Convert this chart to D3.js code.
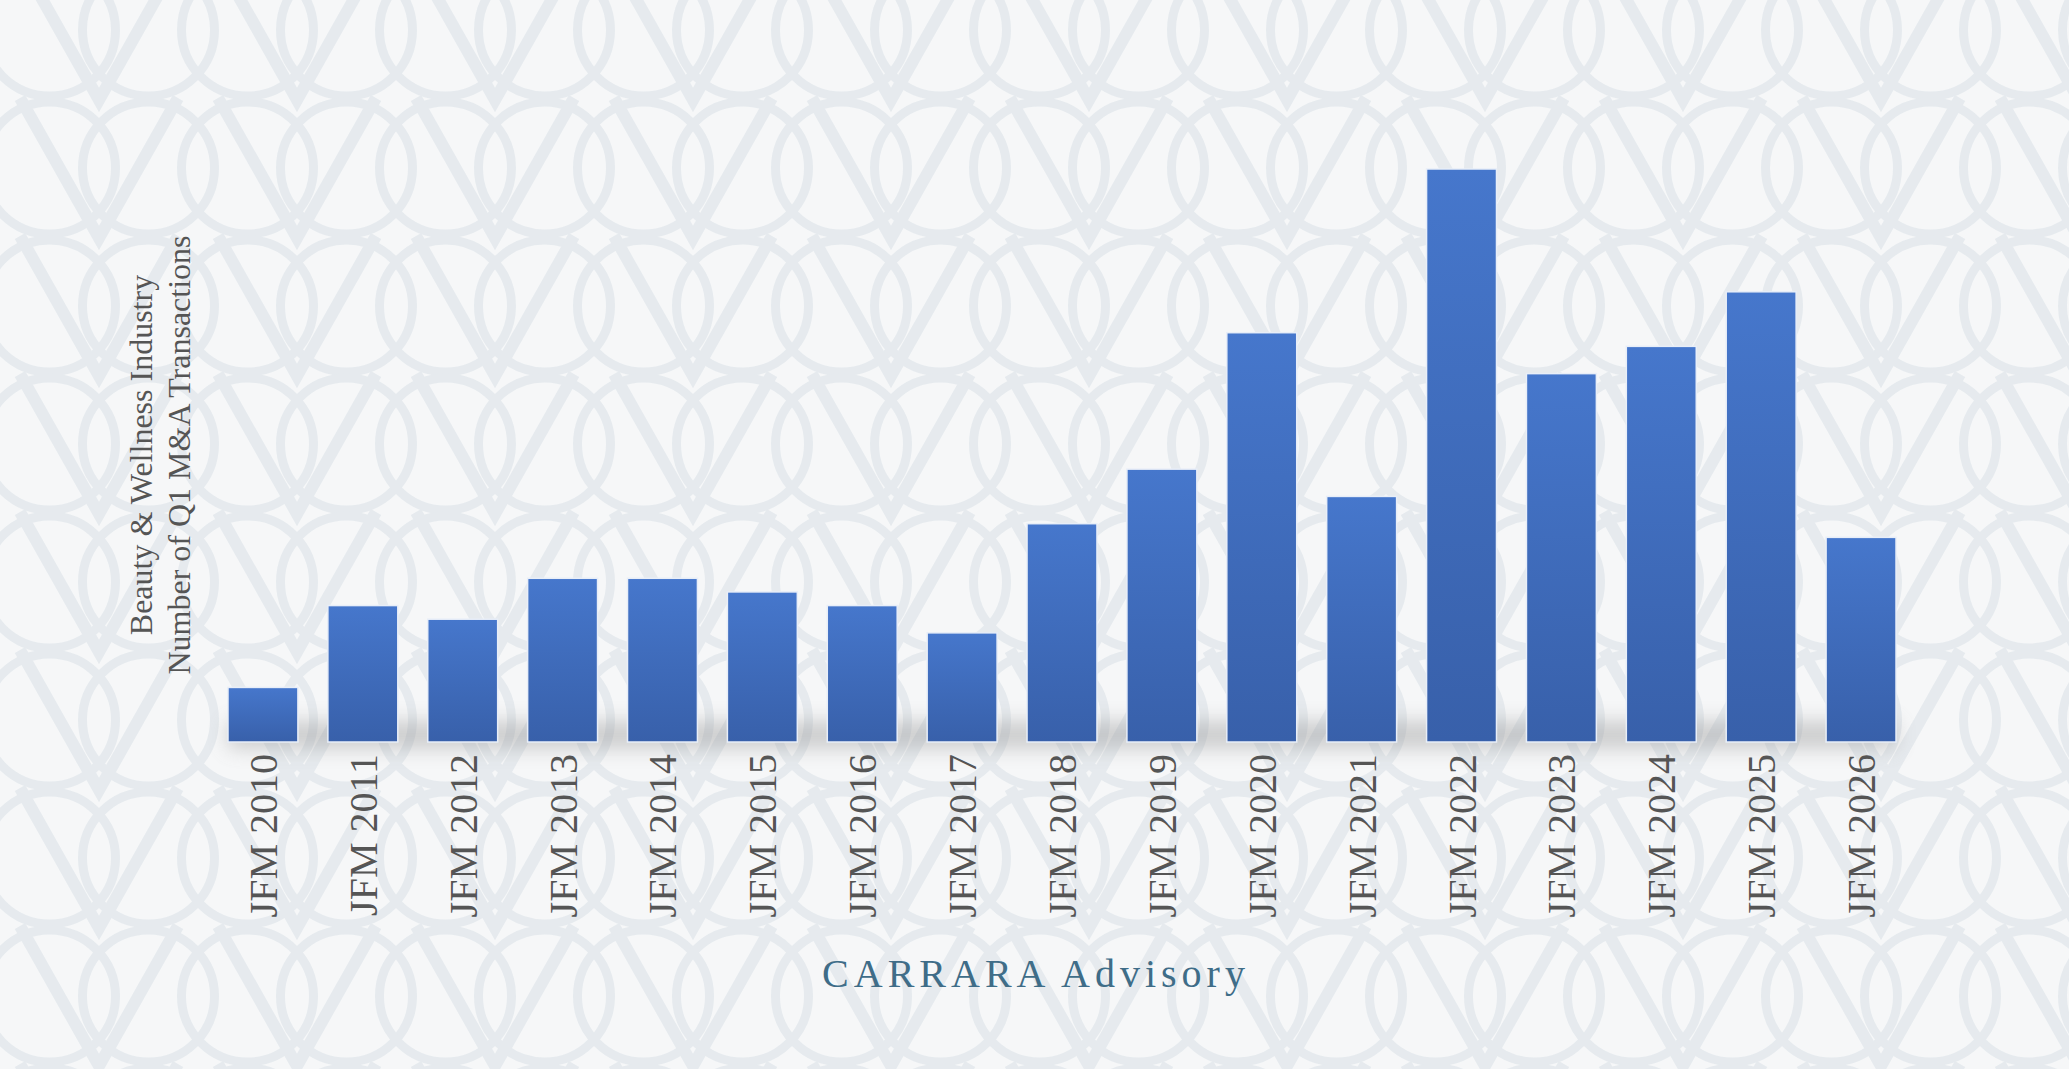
<!DOCTYPE html>
<html><head><meta charset="utf-8">
<script src="https://cdn.jsdelivr.net/npm/d3@7"></script>
<style>body{margin:0;background:#f7f7f7;overflow:hidden}</style>
</head><body>
<svg id="chart" width="2069" height="1069"></svg>
<script>
const years = ["JFM 2010","JFM 2011","JFM 2012","JFM 2013","JFM 2014","JFM 2015","JFM 2016","JFM 2017","JFM 2018","JFM 2019","JFM 2020","JFM 2021","JFM 2022","JFM 2023","JFM 2024","JFM 2025","JFM 2026"];
const deals = [4,10,9,12,12,11,10,8,16,20,30,18,42,27,29,33,15];
const yLabelLines = ["Beauty & Wellness Industry","Number of Q1 M&A Transactions"];
const brand = "CARRARA  Advisory";

const svg = d3.select("#chart");
const W = 2069, H = 1069;
const defs = svg.append("defs");

const g1 = defs.append("linearGradient").attr("id","barGrad").attr("x1",0).attr("x2",0).attr("y1",0).attr("y2",1);
g1.append("stop").attr("offset","0%").attr("stop-color","#4677cc");
g1.append("stop").attr("offset","100%").attr("stop-color","#3860aa");
defs.append("filter").attr("id","blur").attr("x","-20%").attr("y","-200%").attr("width","140%").attr("height","500%")
  .append("feGaussianBlur").attr("stdDeviation",10);

// background watermark pattern
svg.append("rect").attr("width",W).attr("height",H).attr("fill","#f6f7f8");
const bg = svg.append("g").attr("fill","none").attr("stroke","#d3dce3").attr("opacity",0.45);
const cell = 99;
for (let cx = 0; cx < W + cell; cx += cell * 2) {
  for (let cy = -40; cy < H + cell; cy += 138) {
    bg.append("circle").attr("cx",cx+cell/2).attr("cy",cy+70).attr("r",66).attr("stroke-width",9);
    bg.append("circle").attr("cx",cx+cell*1.5).attr("cy",cy+70).attr("r",66).attr("stroke-width",9);
    bg.append("path").attr("d",`M${cx+20},${cy} L${cx+cell},${cy+140} L${cx+cell*2-20},${cy}`).attr("stroke-width",12);
  }
}

const x = d3.scaleBand().domain(years).range([218, 1906]).paddingInner(0.3).paddingOuter(0.1);
const y = d3.scaleLinear().domain([0, 42]).range([742, 169]);

// soft shadow along baseline
svg.append("rect").attr("x",x(years[0])).attr("y",y(0)-20).attr("width",x(years[years.length-1])+x.bandwidth()-x(years[0]))
  .attr("height",26).attr("fill","#888").attr("opacity",0.4).attr("filter","url(#blur)");

svg.append("g").selectAll("rect").data(deals).join("rect")
  .attr("x",(d,i)=>x(years[i])).attr("y",d=>y(d))
  .attr("width",x.bandwidth()).attr("height",d=>y(0)-y(d))
  .attr("fill","url(#barGrad)").attr("stroke","#e8eef8").attr("stroke-width",1.5);

const xAxis = svg.append("g").attr("transform",`translate(0,${y(0)})`)
  .call(d3.axisBottom(x).tickSize(0).tickPadding(0));
xAxis.select(".domain").remove();
xAxis.selectAll("text").attr("transform","rotate(-90)").attr("text-anchor","end")
  .attr("x",-12).attr("y",0).attr("dy","0.35em")
  .style("font-family","Liberation Serif, serif").style("font-size","40px").attr("fill","#555");

svg.append("text").attr("transform","translate(152,455) rotate(-90)").attr("text-anchor","middle")
  .style("font-family","Liberation Serif, serif").style("font-size","32px").attr("fill","#555")
  .selectAll("tspan").data(yLabelLines).join("tspan").attr("x",0).attr("dy",(d,i)=>i?"1.2em":0).text(d=>d);

svg.append("text").attr("x",1036).attr("y",987).attr("text-anchor","middle")
  .style("font-family","Liberation Serif, serif").style("font-size","40px").style("letter-spacing","5px")
  .attr("fill","#3f6d88").text(brand);
</script>
</body></html>
